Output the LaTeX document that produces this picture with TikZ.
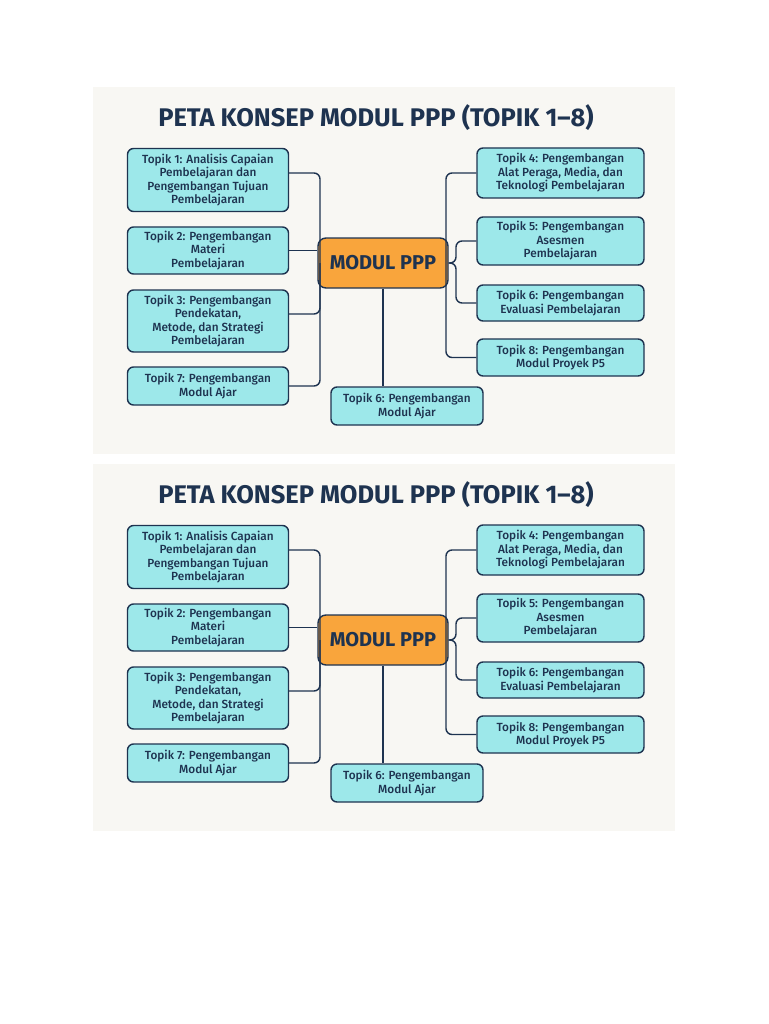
\documentclass[tikz,border=0pt]{standalone}
\usepackage{fontspec}
\setmainfont{Fira Sans}
\newfontfamily\medfont{Fira Sans Medium}
\usepackage{tikz}
\usetikzlibrary{positioning,calc}
\definecolor{navy}{HTML}{1E3350}
\definecolor{paper}{HTML}{F8F7F3}
\definecolor{cyanbox}{HTML}{9DE8EA}
\definecolor{orangebox}{HTML}{F9A53C}
\tikzstyle{topik}=[draw=navy, fill=cyanbox, line width=1.4pt, rounded corners=6pt, align=center, inner sep=0pt, text=navy, font=\medfont\fontsize{11.8}{13.5}\selectfont]
\tikzstyle{pusat}=[draw=navy, fill=orangebox, line width=1.4pt, rounded corners=8pt, inner sep=0pt, text=navy, minimum width=130pt, minimum height=50pt, font=\bfseries\fontsize{20}{22}\selectfont]
\tikzstyle{judul}=[text=navy, inner sep=0pt, font=\bfseries\fontsize{25.5}{28}\selectfont]
\tikzstyle{link}=[draw=navy, line width=1.4pt, rounded corners=6pt]

\begin{document}
\begin{tikzpicture}[x=1pt, y=-1pt]

\fill[white] (0,0) rectangle (768,1024);
\useasboundingbox (0,0) rectangle (768,1024);

\foreach \dy/\p in {0/a,377/b}{
\begin{scope}[shift={(0,\dy)}]
% latar
\fill[paper] (92.5,87) rectangle (674.5,453.5);
\node[judul] (judul\p) at (376,118) {PETA KONSEP MODUL PPP (TOPIK 1–8)};

% pusat
\node[pusat] (modul\p) at (383,263) {MODUL PPP};

% kiri
\node[topik, minimum width=161pt, minimum height=63pt] (t1\p) at (208,180) {Topik 1: Analisis Capaian\\Pembelajaran dan\\Pengembangan Tujuan\\Pembelajaran};
\node[topik, minimum width=161pt, minimum height=47pt] (t2\p) at (208,250.5) {Topik 2: Pengembangan\\Materi\\Pembelajaran};
\node[topik, minimum width=161pt, minimum height=62pt] (t3\p) at (208,321) {Topik 3: Pengembangan\\Pendekatan,\\Metode, dan Strategi\\Pembelajaran};
\node[topik, minimum width=161pt, minimum height=38pt] (t7\p) at (208,386) {Topik 7: Pengembangan\\Modul Ajar};

% kanan
\node[topik, minimum width=167pt, minimum height=50pt] (t4\p) at (560.5,173) {Topik 4: Pengembangan\\Alat Peraga, Media, dan\\Teknologi Pembelajaran};
\node[topik, minimum width=167pt, minimum height=48pt] (t5\p) at (560.5,241) {Topik 5: Pengembangan\\Asesmen\\Pembelajaran};
\node[topik, minimum width=167pt, minimum height=36pt] (t6\p) at (560.5,303) {Topik 6: Pengembangan\\Evaluasi Pembelajaran};
\node[topik, minimum width=167pt, minimum height=37pt] (t8\p) at (560.5,357.5) {Topik 8: Pengembangan\\Modul Proyek P5};

% bawah
\node[topik, minimum width=152pt, minimum height=38pt] (tb\p) at (407,406) {Topik 6: Pengembangan\\Modul Ajar};

% garis
\coordinate (kiri\p) at (320,263);
\coordinate (kanan\p) at (446,263);
\coordinate (cabang\p) at (456,263);
\draw[link] ([yshift=7pt]t1\p.east) -| (kiri\p) |- (t7\p.east);
\draw[link] ([yshift=7pt]t3\p.east) -| (kiri\p);
\draw[link] (t2\p.east) -- (t2\p.east -| modul\p.west);
\draw[link] (t4\p.west) -| (kanan\p) |- (t8\p.west);
\draw[link] (modul\p.east) -- (cabang\p) |- (t5\p.west);
\draw[link] (modul\p.east) -- (cabang\p) |- (t6\p.west);
\draw[link] (modul\p.south) -- (modul\p.south |- tb\p.north);
\end{scope}
}

\end{tikzpicture}
\end{document}
